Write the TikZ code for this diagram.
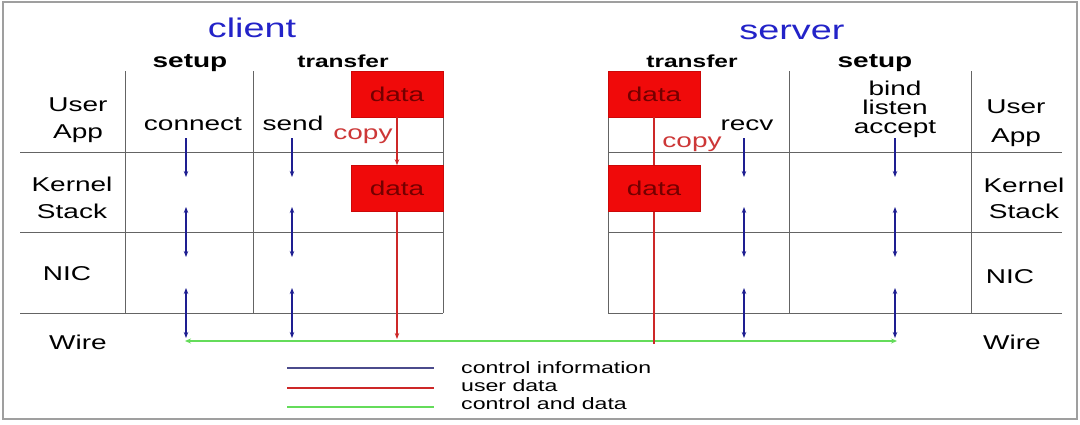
\documentclass[tikz,border=0pt]{standalone}
\usepackage{fontspec}
\setmainfont[FakeStretch=1.4]{Liberation Sans}
\usetikzlibrary{arrows.meta}
\definecolor{ttlblue}{RGB}{35,35,200}
\definecolor{ctlblue}{RGB}{30,30,145}
\definecolor{legblue}{RGB}{75,75,140}
\definecolor{boxred}{RGB}{240,10,10}
\definecolor{boxtxt}{RGB}{115,0,0}
\definecolor{copyred}{RGB}{205,55,55}
\definecolor{datared}{RGB}{205,40,40}
\definecolor{wiregreen}{RGB}{100,220,90}
\definecolor{gridgray}{RGB}{100,100,100}
\begin{document}
\begin{tikzpicture}[x=1pt,y=-1pt,
  lbl/.style={font=\fontsize{20}{24}\selectfont, inner sep=0pt, anchor=base},
  ttl/.style={font=\fontsize{27}{30}\selectfont, text=ttlblue, inner sep=0pt, anchor=base},
  hdr/.style={font=\bfseries\fontsize{20}{24}\selectfont, inner sep=0pt, anchor=base},
  hdrs/.style={font=\bfseries\fontsize{17.5}{22}\selectfont, inner sep=0pt, anchor=base},
  cpy/.style={font=\fontsize{20}{24}\selectfont, text=copyred, inner sep=0pt, anchor=base},
  leg/.style={font=\fontsize{16.5}{20}\selectfont, inner sep=0pt, anchor=base west},
  databox/.style={fill=boxred, draw=boxred!85!black, line width=0.6pt, minimum width=92pt,
     minimum height=46pt, inner sep=0pt, text=boxtxt, font=\fontsize{20}{24}\selectfont},
  gridline/.style={draw=gridgray, line width=0.9pt},
  ctl/.style={draw=ctlblue, line width=1.5pt},
  ctldown/.style={ctl, -{Stealth[length=6pt,width=4.5pt]}},
  ctlboth/.style={ctl, {Stealth[length=6pt,width=4.5pt]}-{Stealth[length=6pt,width=4.5pt]}},
  udata/.style={draw=datared, line width=2pt},
  wire/.style={draw=wiregreen, line width=2.2pt}]
\useasboundingbox (0,0) rectangle (1080,424);
\fill[white] (0,0) rectangle (1080,424);
\draw[draw=gray!75, line width=1.2pt] (3,2) rectangle (1077,419);

% grid, client side
\draw[gridline] (20,152) -- (443,152) (20,232) -- (443,232) (20,313) -- (443,313);
\draw[gridline] (125,71) -- (125,313) (253,71) -- (253,313) (443,71) -- (443,313);
% grid, server side
\draw[gridline] (608,152) -- (1062,152) (608,232) -- (1062,232) (608,313) -- (1062,313);
\draw[gridline] (608,71) -- (608,313) (789,71) -- (789,313) (971,71) -- (971,313);

% titles
\node[ttl] (client) at (252,37) {client};
\node[ttl] (server) at (792,39) {server};
\node[hdr] (setupL) at (190,67) {setup};
\node[hdrs] (transferL) at (343,67) {transfer};
\node[hdrs] (transferR) at (692,67) {transfer};
\node[hdr] (setupR) at (875,67) {setup};

% row labels left
\node[lbl] (userL) at (78,111) {User};
\node[lbl] (appL) at (78,138) {App};
\node[lbl] (kernelL) at (72,191) {Kernel};
\node[lbl] (stackL) at (72,218) {Stack};
\node[lbl] (nicL) at (67,280) {NIC};
\node[lbl] (wireL) at (78,349) {Wire};
% row labels right
\node[lbl] (userR) at (1016,113) {User};
\node[lbl] (appR) at (1016,142) {App};
\node[lbl] (kernelR) at (1024,192) {Kernel};
\node[lbl] (stackR) at (1024,218) {Stack};
\node[lbl] (nicR) at (1010,283) {NIC};
\node[lbl] (wireR) at (1012,349) {Wire};

% calls
\node[lbl] (connect) at (193,130) {connect};
\node[lbl] (send) at (293,130) {send};
\node[lbl] (recv) at (747,130) {recv};
\node[lbl] (bind) at (895,95) {bind};
\node[lbl] (listen) at (895,114) {listen};
\node[lbl] (accept) at (895,133) {accept};

% control arrows
\foreach \n/\x in {c1/186,c2/292,s1/744,s2/895} {
  \coordinate (\n a) at (\x,138);
  \coordinate (\n b) at (\x,177);
  \coordinate (\n c) at (\x,207);
  \coordinate (\n d) at (\x,257);
  \coordinate (\n e) at (\x,288);
  \coordinate (\n f) at (\x,338);
  \draw[ctldown] (\n a) -- (\n b);
  \draw[ctlboth] (\n c) -- (\n d);
  \draw[ctlboth] (\n e) -- (\n f);
}

% wire
\coordinate (wL) at (185,341);
\coordinate (wR) at (897,341);
\draw[wire, {Stealth[length=6pt,width=5pt]}-{Stealth[length=6pt,width=5pt]}] (wL) -- (wR);

% data boxes
\node[databox] (dL1) at (397,94) {data};
\node[databox] (dL2) at (397,188.5) {data};
\node[databox] (dR1) at (654,94) {data};
\node[databox] (dR2) at (654,188.5) {data};
\coordinate (rL) at (397,339);
\coordinate (rR) at (654,344);
\draw[udata, -{Stealth[length=6pt,width=4.5pt]}] (dL1.south) -- (dL2.north);
\draw[udata, -{Stealth[length=6pt,width=4.5pt]}] (dL2.south) -- (rL);
\draw[udata] (dR1.south) -- (dR2.north);
\draw[udata] (dR2.south) -- (rR);
\node[cpy] (copyL) at (363,139) {copy};
\node[cpy] (copyR) at (692,147) {copy};

% legend
\coordinate (l1a) at (287,368); \coordinate (l1b) at (434,368);
\coordinate (l2a) at (287,388); \coordinate (l2b) at (434,388);
\coordinate (l3a) at (287,407); \coordinate (l3b) at (434,407);
\draw[draw=legblue, line width=1.6pt] (l1a) -- (l1b);
\draw[draw=datared, line width=1.6pt] (l2a) -- (l2b);
\draw[draw=wiregreen, line width=1.8pt] (l3a) -- (l3b);
\node[leg] (legc) at (461,373) {control information};
\node[leg] (legu) at (461,391) {user data};
\node[leg] (legd) at (461,409) {control and data};
\end{tikzpicture}
\end{document}
